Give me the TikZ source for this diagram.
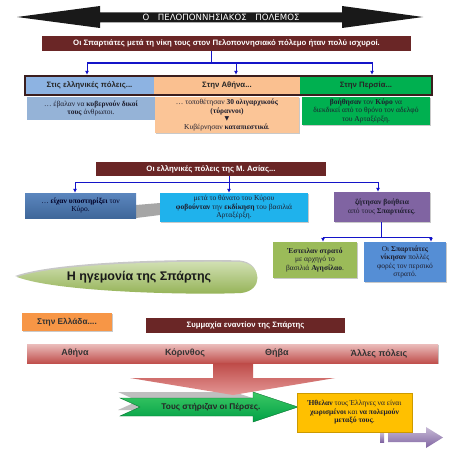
\documentclass[tikz,border=0pt]{standalone}
\usepackage{fontspec}
\setmainfont{Liberation Serif}
\newfontfamily\calf{Liberation Sans}
\newfontfamily\dejf{DejaVu Sans}
\usetikzlibrary{arrows.meta,calc,shadows}
\definecolor{maroonC}{HTML}{6A2626}
\definecolor{hborder}{HTML}{3B1E1E}
\definecolor{hblueC}{HTML}{8DB3E2}
\definecolor{horangeC}{HTML}{FAC090}
\definecolor{hgreenC}{HTML}{00B050}
\definecolor{lblueC}{HTML}{95B3D7}
\definecolor{lorangeC}{HTML}{FBC597}
\definecolor{steelTop}{HTML}{5B86BE}
\definecolor{steelBot}{HTML}{3F679A}
\definecolor{cyanC}{HTML}{1FB2EC}
\definecolor{purpleC}{HTML}{8064A2}
\definecolor{oliveC}{HTML}{9BBB59}
\definecolor{midblueC}{HTML}{558ED5}
\definecolor{orangeC}{HTML}{F79646}
\definecolor{yellowC}{HTML}{FFC000}
\definecolor{connC}{HTML}{1414C8}
\definecolor{darktext}{HTML}{1E1E2E}
\definecolor{pinkTop}{HTML}{EBBDBC}
\definecolor{pinkMid}{HTML}{DC9694}
\definecolor{pinkBot}{HTML}{C0504D}
\begin{document}
\begin{tikzpicture}[x=1pt,y=-1pt,
 banner/.style={fill=maroonC, text=white, font=\calf\bfseries\fontsize{7.8}{9}\selectfont, inner sep=0pt, minimum height=15pt},
 hdr/.style={font=\calf\bfseries\fontsize{7.8}{9}\selectfont, text=black!85, inner sep=0pt, minimum height=19pt},
 tbox/.style={font=\fontsize{7.5}{8.5}\selectfont, align=center, inner sep=1pt, text=darktext},
 shd/.style={drop shadow={shadow xshift=1.2pt, shadow yshift=-1.2pt, opacity=.35, fill=black!60}},
 conn/.style={draw=connC, line width=1pt},
 connarrow/.style={conn, -{Latex[length=4pt,width=4pt]}},
 cityname/.style={font=\calf\bfseries\fontsize{9}{10}\selectfont, text=black!80},
 bigsans/.style={font=\calf\bfseries\fontsize{8.3}{10}\selectfont},
]
\useasboundingbox (0,0) rectangle (452,452);
\fill[white] (0,0) rectangle (452,452);

% title double arrow
\fill[black!90] (17,17) -- (100,6) -- (100,12.5) -- (342,12.5) -- (342,6) -- (423,17) -- (342,28) -- (342,22.5) -- (100,22.5) -- (100,28) -- cycle;
\node[text=white, font=\dejf\fontsize{8.6}{9}\selectfont, inner sep=0pt] (title) at (221,17.5) {Ο\quad ΠΕΛΟΠΟΝΝΗΣΙΑΚΟΣ\quad ΠΟΛΕΜΟΣ};

% banner 1
\node[banner, minimum width=369pt] (b1) at (226.5,43.5) {Οι Σπαρτιάτες μετά τη νίκη τους στον Πελοποννησιακό πόλεμο ήταν πολύ ισχυροί.};

% header row
\node[hdr, fill=hblueC, minimum width=129pt] (hblue) at (89.5,85.5) {Στις ελληνικές πόλεις...};
\node[hdr, fill=horangeC, minimum width=146pt] (horange) at (227,85.5) {Στην Αθήνα...};
\node[hdr, fill=hgreenC, minimum width=132pt] (hgreen) at (366,85.5) {Στην Περσία...};
\draw[line width=1.6pt, draw=hborder] (hblue.north west) rectangle (hgreen.south east);

\coordinate (j1) at (211,63);
\draw[conn] (j1 |- b1.south) -- (j1);
\draw[connarrow] (j1) -| ([xshift=-2.5pt,yshift=1pt]hblue.north);
\draw[connarrow] (j1) -| ([xshift=9pt,yshift=1pt]horange.north);
\draw[connarrow] (j1) -| ([xshift=6pt,yshift=1pt]hgreen.north);

% lower boxes
\node[tbox, fill=lblueC, minimum width=128pt, minimum height=23pt] (lblue) at (91,108.5) {… έβαλαν να \textbf{κυβερνούν δικοί}\\\textbf{τους} άνθρωποι.};
\node[tbox, fill=lorangeC, minimum width=144pt, minimum height=36pt, shd] (lorange) at (227,115) {… τοποθέτησαν \textbf{30 ολιγαρχικούς}\\\textbf{(τύραννοι)}\\[-1pt]{\dejf\fontsize{6}{6}\selectfont ▼}\\Κυβέρνησαν \textbf{καταπιεστικά}.};
\node[tbox, fill=hgreenC, minimum width=128pt, minimum height=28pt, shd] (lgreen) at (366,111) {\textbf{βοήθησαν} τον \textbf{Κύρο} να\\διεκδικεί από το θρόνο τον αδελφό\\του Αρταξέρξη.};

% banner 2
\node[banner, minimum width=230pt, minimum height=14pt] (b2) at (211,169) {Οι ελληνικές πόλεις της Μ. Ασίας...};

% middle row
\fill[black!35] (136,205) -- (160,203) -- (160,215) -- (136,218) -- cycle;
\node[tbox, top color=steelTop, bottom color=steelBot, minimum width=111pt, minimum height=25pt, text=black!85!blue] (mb1) at (80.5,205.5) {… \textbf{είχαν υποστηρίξει} τον\\Κύρο.};
\node[tbox, fill=cyanC, minimum width=148pt, minimum height=29pt, shd] (mb2) at (234,207.5) {μετά το θάνατο του Κύρου\\\textbf{φοβούνταν} την \textbf{εκδίκηση} του βασιλιά\\Αρταξέρξη.};
\node[tbox, fill=purpleC, minimum width=96pt, minimum height=30pt, shd] (mb3) at (382,207) {\textbf{ζήτησαν βοήθεια}\\από τους \textbf{Σπαρτιάτες}.};

\coordinate (j2) at (229,182);
\draw[conn] (j2 |- b2.south) -- (j2);
\draw[connarrow] (j2) -| ([xshift=-5.5pt]mb1.north);
\draw[connarrow] (j2) -- (j2 |- mb2.north);
\draw[connarrow] (j2) -| ([xshift=-4pt]mb3.north);

% lower right
\node[tbox, fill=oliveC, minimum width=84pt, minimum height=36pt, shd] (lc1) at (315,260) {\textbf{Έστειλαν στρατό}\\με αρχηγό το\\βασιλιά \textbf{Αγησίλαο}.};
\node[tbox, fill=midblueC, minimum width=82pt, minimum height=40pt, shd] (lc2) at (405,262) {Οι \textbf{Σπαρτιάτες}\\\textbf{νίκησαν} πολλές\\φορές τον περσικό\\στρατό.};
\coordinate (j3) at (381,237);
\coordinate (j3l) at (323,237);
\coordinate (j3r) at (431,237);
\draw[conn] (mb3.south -| j3) -- (j3);
\draw[conn] (j3l) -- (j3r);
\draw[connarrow] (j3l) -- (j3l |- lc1.north);
\draw[connarrow] (j3r) -- (j3r |- lc2.north);

% hegemony lens
\fill[black!22] (15,276) .. controls (60,260) and (200,259) .. (240,260.5) .. controls (262,263) and (262,288) .. (240,290) .. controls (200,292) and (60,291) .. (15,276) -- cycle;
\shade[top color=oliveC!45, bottom color=oliveC!95!black] (17,277) .. controls (60,262) and (200,261) .. (241,262) .. controls (263,265) and (263,291) .. (241,293) .. controls (200,295) and (60,293) .. (17,277) -- cycle;
\node[font=\calf\bfseries\fontsize{12.5}{14}\selectfont, text=black!90] (hegem) at (139,277) {Η ηγεμονία της Σπάρτης};

% Greece
\node[fill=orangeC, minimum width=90pt, minimum height=18pt, inner sep=0pt, bigsans, text=black!80, shd] (ellada) at (67,322) {Στην Ελλάδα....};
\node[banner, minimum width=199pt] (b3) at (245.5,325.5) {Συμμαχία εναντίον της Σπάρτης};

% red bar
\node[top color=pinkTop, middle color=pinkMid, bottom color=pinkBot, minimum width=411pt, minimum height=19pt, inner sep=0pt, shd] (bar) at (232.5,353.5) {};
\node[cityname] (athina) at (75,353.5) {Αθήνα};
\node[cityname] (korinthos) at (185,353.5) {Κόρινθος};
\node[cityname] (thiva) at (277,353.5) {Θήβα};
\node[cityname] (alles) at (379,353.5) {Άλλες πόλεις};

% gray shadow arrow
\fill[black!25] (118,392) -- (215,392) -- (215,386) -- (262,401) -- (215,416) -- (215,410) -- (118,410) -- (138,401) -- cycle;
% red down arrow
\shade[top color={rgb,255:red,190;green,75;blue,72}, bottom color={rgb,255:red,228;green,150;blue,149}] (213,363) -- (253,363) -- (253,378) -- (335,378) -- (233,395) -- (130,378) -- (213,378) -- cycle;
% green arrow
\shade[top color={rgb,255:red,60;green,200;blue,100}, bottom color={rgb,255:red,0;green,160;blue,70}, draw={rgb,255:red,10;green,120;blue,50}, line width=0.4pt] (120,398) -- (253,398) -- (253,392) -- (298,407) -- (253,422) -- (253,416) -- (120,416) -- (140,407) -- cycle;
\node[bigsans, text=black!85] (persians) at (211,407) {Τους στήριζαν οι Πέρσες.};

% yellow box
\node[tbox, fill=yellowC, draw=yellowC!80!black, line width=0.4pt, minimum width=115pt, minimum height=39pt, shd] (yellow) at (354.5,412.5) {\textbf{Ήθελαν} τους Έλληνες να είναι\\\textbf{χωρισμένοι} και \textbf{να πολεμούν}\\\textbf{μεταξύ τους}.};

% purple striped arrow
\shade[top color=purpleC!45, bottom color=purpleC] (380,433) rectangle (384,442);
\shade[top color=purpleC!45, bottom color=purpleC] (388,433) -- (426,433) -- (426,427) -- (443,437.5) -- (426,448) -- (426,442) -- (388,442) -- cycle;
\end{tikzpicture}
\end{document}
